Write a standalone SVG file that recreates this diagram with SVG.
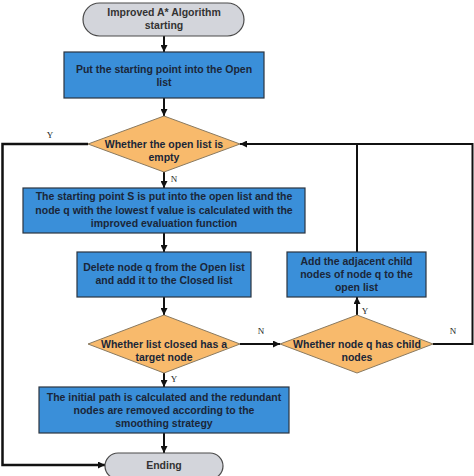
<svg xmlns="http://www.w3.org/2000/svg" width="474" height="476" viewBox="0 0 474 476">
<defs>
<style>
.term{fill:#d3d5db;stroke:#4a4a4a;stroke-width:1.2}
.box{fill:#3a8fd9;stroke:#2b3440;stroke-width:1.2}
.dia{fill:#f8ba6c;stroke:#8a7a60;stroke-width:1}
.t{font-family:"Liberation Sans",Arial,sans-serif;font-weight:bold;font-size:10.5px;fill:#1a2638;text-anchor:middle}
.tt{font-family:"Liberation Sans",Arial,sans-serif;font-weight:bold;font-size:10.5px;fill:#333;text-anchor:middle}
.lbl{font-family:"Liberation Serif","Times New Roman",serif;font-size:9px;fill:#222;text-anchor:middle}
.c{fill:none;stroke:#111;stroke-width:2}
</style>
<marker id="ah" viewBox="0 0 10 10" refX="10" refY="5" markerWidth="7" markerHeight="7" markerUnits="userSpaceOnUse" orient="auto">
<path d="M0,0 L10,5 L0,10 z" fill="#111"/>
</marker>
</defs>
<g id="connectors">
<path class="c" d="M164,36 V52" marker-end="url(#ah)"/>
<path class="c" d="M164,98 V116" marker-end="url(#ah)"/>
<path class="c" d="M164,172 V188" marker-end="url(#ah)"/>
<path class="c" d="M164,233 V252" marker-end="url(#ah)"/>
<path class="c" d="M164,297 V315" marker-end="url(#ah)"/>
<path class="c" d="M164,373 V387" marker-end="url(#ah)"/>
<path class="c" d="M164,433 V453" marker-end="url(#ah)"/>
<path class="c" d="M88,144 H2.5 V465 H105" marker-end="url(#ah)" style="stroke-width:2.5"/>
<path class="c" d="M240,344 H280" marker-end="url(#ah)"/>
<path class="c" d="M433,344 H472.5 V144 H240" marker-end="url(#ah)"/>
<path class="c" d="M357,315 V297" marker-end="url(#ah)"/>
<path class="c" d="M357,252 V144"/>
<text class="lbl" x="50" y="138">Y</text>
<text class="lbl" x="174" y="182">N</text>
<text class="lbl" x="365" y="314">Y</text>
<text class="lbl" x="261" y="334">N</text>
<text class="lbl" x="453" y="334">N</text>
<text class="lbl" x="174" y="382">Y</text>
</g>
<g id="start">
<rect class="term" x="83" y="3" width="161" height="33" rx="16.5"/>
<text class="tt" x="164" y="16">Improved A* Algorithm</text>
<text class="tt" x="164" y="29">starting</text>
</g>
<g id="put-start">
<rect class="box" x="64" y="52" width="200" height="46"/>
<text class="t" x="164" y="72.5">Put the starting point into the Open</text>
<text class="t" x="164" y="85.5">list</text>
</g>
<g id="open-empty">
<polygon class="dia" points="164,116 240,144 164,172 88,144"/>
<text class="t" x="164" y="147.5">Whether the open list is</text>
<text class="t" x="164" y="160.5">empty</text>
</g>
<g id="select-q">
<rect class="box" x="23" y="188" width="282" height="45"/>
<text class="t" x="164" y="200">The starting point S is put into the open list and the</text>
<text class="t" x="164" y="213.5">node q with the lowest f value is calculated with the</text>
<text class="t" x="164" y="227">improved evaluation function</text>
</g>
<g id="delete-q">
<rect class="box" x="77" y="252" width="174" height="45"/>
<text class="t" x="164" y="271">Delete node q from the Open list</text>
<text class="t" x="164" y="284">and add it to the Closed list</text>
</g>
<g id="add-children">
<rect class="box" x="287" y="252" width="139" height="45"/>
<text class="t" x="356.5" y="264.5">Add the adjacent child</text>
<text class="t" x="356.5" y="278">nodes of node q to the</text>
<text class="t" x="356.5" y="291">open list</text>
</g>
<g id="closed-target">
<polygon class="dia" points="164,315 240,344 164,373 88,344"/>
<text class="t" x="164" y="347.5">Whether list closed has a</text>
<text class="t" x="164" y="361">target node</text>
</g>
<g id="has-children">
<polygon class="dia" points="357,315 433,344 357,373 280,344"/>
<text class="t" x="357" y="347.5">Whether node q has child</text>
<text class="t" x="357" y="361">nodes</text>
</g>
<g id="path-smooth">
<rect class="box" x="39" y="387" width="250" height="46"/>
<text class="t" x="164" y="400.5">The initial path is calculated and the redundant</text>
<text class="t" x="164" y="414">nodes are removed according to the</text>
<text class="t" x="164" y="427">smoothing strategy</text>
</g>
<g id="end">
<rect class="term" x="105" y="453" width="118" height="26" rx="13"/>
<text class="tt" x="164" y="469">Ending</text>
</g>
</svg>
